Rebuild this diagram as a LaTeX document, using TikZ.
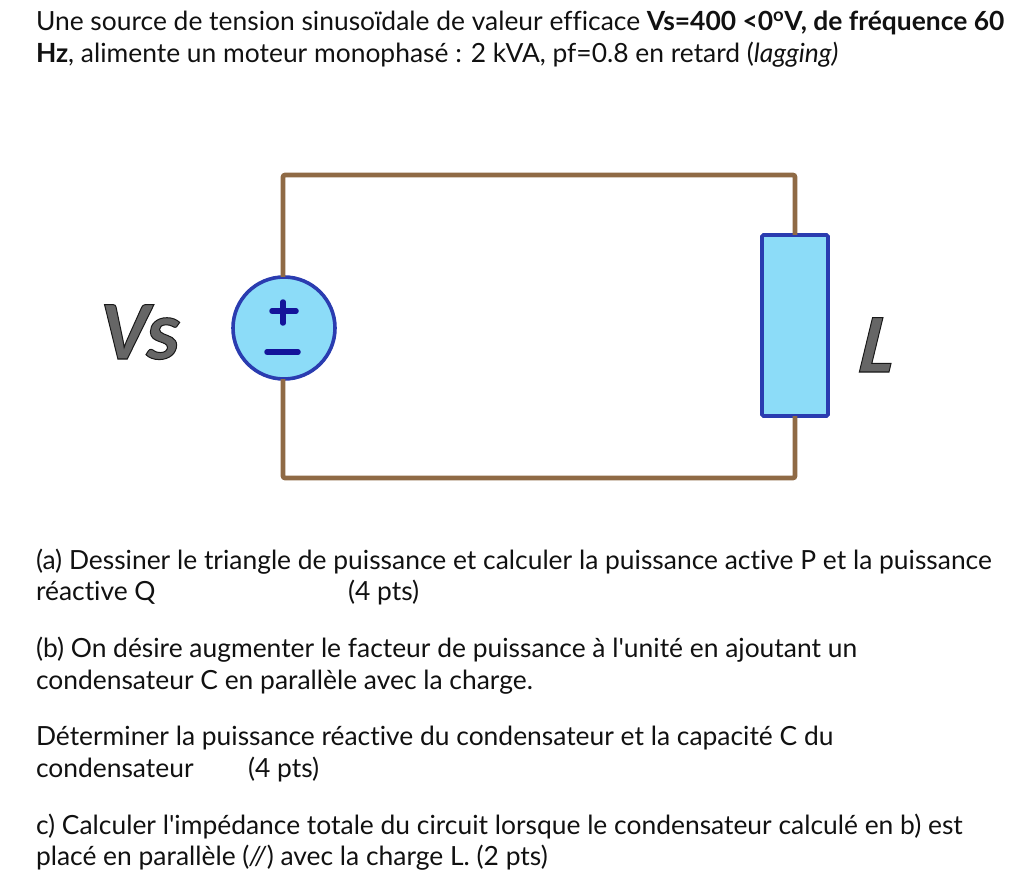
\documentclass[tikz,border=0pt]{standalone}
\usepackage{fontspec}
\setmainfont{Lato}[Ligatures={NoCommon,TeXOff},RawFeature={-liga;-dlig;-clig}]
\newfontfamily\carlitofont{Carlito}
\definecolor{wirec}{HTML}{8F6A45}
\definecolor{fillc}{HTML}{8CDCF8}
\definecolor{edgec}{HTML}{2A3CB0}
\definecolor{signc}{HTML}{14149A}
\definecolor{labelc}{HTML}{666666}
\definecolor{textc}{HTML}{111111}
\tikzset{
  txt/.style={anchor=base west,inner sep=0pt,outer sep=0pt,font=\fontsize{26.4}{30}\selectfont,text=textc},
  wire/.style={draw=wirec,line width=4.6pt,rounded corners=2pt},
  element/.style={draw=edgec,fill=fillc,line width=3.6pt,inner sep=0pt,outer sep=0pt},
  sign/.style={draw=signc,line width=5.5pt,line cap=round},
  biglabel/.style={anchor=base west,inner sep=0pt,outer sep=0pt,text=labelc,font=\carlitofont\bfseries\itshape\fontsize{84}{86}\selectfont}
}
\begin{document}
\begin{tikzpicture}[x=1pt,y=-1pt]
\useasboundingbox (0,0) rectangle (1024,890);
\coordinate (tl) at (283,175);
\coordinate (tr) at (795,175);
\coordinate (bl) at (283,478);
\coordinate (br) at (795,478);
\node[circle,element,minimum size=102pt] (vs) at (284,328) {};
\node[rectangle,element,rounded corners=1.5pt,minimum width=66pt,minimum height=181pt] (load) at (795,325.5) {};
\draw[wire] (vs.north -| tl) -- (tl) -- (tr) -- (load.north);
\draw[wire] (vs.south -| bl) -- (bl) -- (br) -- (load.south);
\coordinate (pa) at (283,302);
\coordinate (pb) at (283,323);
\coordinate (pc) at (272,311);
\coordinate (pd) at (296,311);
\coordinate (ma) at (267,352);
\coordinate (mb) at (298,352);
\draw[sign] (pa) -- (pb);
\draw[sign] (pc) -- (pd);
\draw[sign] (ma) -- (mb);
\node[biglabel] (vslabel) at (100,359) {\special{pdf:code 2 Tr 1 w 0.1 0.1 0.1 RG}Vs\special{pdf:code 0 Tr}};
\node[biglabel,xslant=0.12] (llabel) at (857,372) {\special{pdf:code 2 Tr 1 w 0.1 0.1 0.1 RG}L\special{pdf:code 0 Tr}};
\node[txt] (t1) at (36,30.8) {Une source de tension sinusoïdale de valeur efficace \textbf{Vs=400 <0\textsuperscript{o}V, de fréquence 60}};
\node[txt] (t2) at (36,62.8) {\textbf{Hz}, alimente un moteur monophasé : 2 kVA, pf=0.8 en retard (\textit{lagging)}};
\node[txt] (t3) at (36,569.7) {(a) Dessiner le triangle de puissance et calculer la puissance active P et la puissance};
\node[txt] (t4) at (36,600.5) {réactive Q};
\node[txt] (t4b) at (348,600.5) {(4 pts)};
\node[txt] (t5) at (36,657.7) {(b) On désire augmenter le facteur de puissance à l'unité en ajoutant un};
\node[txt] (t6) at (36,689.5) {condensateur C en parallèle avec la charge.};
\node[txt] (t7) at (36,745.7) {Déterminer la puissance réactive du condensateur et la capacité C du};
\node[txt] (t8) at (36,777.5) {condensateur};
\node[txt] (t8b) at (248,777.5) {(4 pts)};
\node[txt] (t9) at (36,834.5) {c) Calculer l'impédance totale du circuit lorsque le condensateur calculé en b) est};
\node[txt] (t10) at (36,865.5) {placé en parallèle (\textit{//}) avec la charge L. (2 pts)};
\end{tikzpicture}
\end{document}
